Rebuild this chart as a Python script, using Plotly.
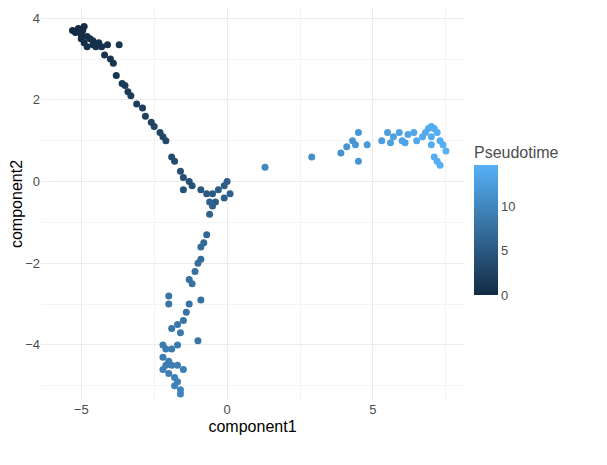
import plotly.graph_objects as go

x = [-5.3,-5.1,-4.9,-5.0,-4.8,-4.9,-4.7,-4.6,-4.5,-4.4,-4.3,-4.2,-4.0,-3.9,-4.1,-4.8,-5.0,-5.2,-4.95,-4.6,
     -3.8,-3.6,-3.5,-3.4,-3.3,-3.1,-2.9,-2.8,-2.6,-2.5,-2.3,-2.2,-2.1,-1.9,-1.8,-1.6,-1.5,-1.3,-1.5,-1.2,-0.9,-0.7,-0.5,-0.3,-0.1,0.0,-0.1,0.1,-0.4,-3.7,
     -0.6,-0.5,-0.6,-0.7,-0.8,-0.9,-0.9,-1.0,-1.1,-1.2,-1.3,-0.9,-1.3,-1.4,-1.5,-1.7,-1.6,-1.9,-2.0,-2.0,-1.0,-1.7,-1.9,-2.1,-2.2,-2.0,-1.9,-2.2,-2.0,-1.8,-1.7,-1.8,-1.6,-1.6,-2.1,-1.5,-1.7,-2.2,
     1.3,2.9,3.9,4.1,4.3,4.5,4.4,4.5,4.8,5.3,5.5,5.7,5.9,6.0,6.2,6.4,6.5,6.7,6.9,7.0,7.1,7.2,7.3,7.4,7.5,7.1,7.2,7.3,7.0,6.8,7.0,5.6,6.1]
y = [3.7,3.75,3.8,3.6,3.55,3.4,3.5,3.35,3.3,3.4,3.3,3.1,3.0,2.9,3.35,3.3,3.5,3.65,3.7,3.45,
     2.6,2.4,2.35,2.2,2.1,1.9,1.8,1.6,1.45,1.35,1.2,1.1,1.0,0.6,0.5,0.25,0.1,0.0,-0.2,-0.1,-0.2,-0.3,-0.3,-0.2,-0.1,0.0,-0.4,-0.3,-0.5,3.35,
     -0.5,-0.6,-0.8,-1.3,-1.5,-1.6,-1.9,-2.0,-2.2,-2.5,-2.4,-2.9,-3.0,-3.2,-3.4,-3.5,-3.7,-3.6,-3.0,-2.8,-3.9,-4.0,-4.1,-4.1,-4.3,-4.4,-4.5,-4.6,-4.7,-4.8,-4.9,-5.0,-5.1,-5.2,-4.5,-4.6,-4.5,-4.0,
     0.35,0.6,0.7,0.85,1.0,1.2,0.9,0.5,0.9,1.0,1.2,1.1,1.2,1.0,1.15,1.2,1.0,1.1,1.3,1.1,1.3,1.2,1.0,0.9,0.75,0.6,0.5,0.4,0.9,1.2,1.35,0.95,0.95]
pseudotime = [0,0.1,0.2,0.3,0.4,0.5,0.5,0.6,0.7,0.7,0.8,0.9,1.0,1.1,0.8,0.5,0.2,0.05,0.15,0.6,
     1.3,1.5,1.6,1.7,1.8,2.0,2.2,2.4,2.6,2.7,2.9,3.0,3.1,3.5,3.6,3.9,4.0,4.2,4.3,4.4,4.8,5.0,5.2,5.4,5.6,5.8,5.7,5.9,5.5,1.2,
     6.0,6.1,6.3,6.6,6.8,7.0,7.2,7.3,7.5,7.7,7.6,7.6,7.9,8.0,8.1,8.3,8.4,8.3,8.2,8.1,8.0,8.6,8.7,8.8,8.9,9.0,9.1,9.1,9.2,9.3,9.4,9.5,9.6,9.7,9.0,9.2,9.1,8.8,
     10,10.8,11.2,11.4,11.6,11.8,11.7,11.6,12.0,12.3,12.5,12.7,12.9,13.0,13.2,13.4,13.5,13.7,13.9,14.0,14.1,14.2,14.3,14.4,14.5,14.3,14.4,14.5,14.0,13.8,14.0,12.6,13.0]

fig = go.Figure(go.Scatter(
    x=x, y=y, mode="markers",
    marker=dict(size=7, color=pseudotime, cmin=0, cmax=14.6,
                colorscale=[[0, "#132B43"], [1, "#56B1F7"]],
                colorbar=dict(title=dict(text="Pseudotime", side="top", font=dict(size=16)),
                              tickvals=[0, 5, 10], thickness=24, len=172, lenmode="pixels",
                              x=1.0, xanchor="left", y=0.68, yanchor="top",
                              outlinewidth=0, ticks="", tickfont=dict(size=13, color="#4d4d4d"))),
    showlegend=False))

grid = "#ebebeb"
fig.update_layout(
    width=607, height=465, plot_bgcolor="white", paper_bgcolor="white",
    margin=dict(l=31, r=151, t=0, b=73),
    font=dict(family="Liberation Sans, Arial", size=13, color="#4d4d4d"),
    xaxis=dict(title=dict(text="component1", font=dict(size=16, color="black"), standoff=4),
               range=[-6.38, 8.12], tickvals=[-5, 0, 5], gridcolor=grid, gridwidth=1.3,
               zeroline=False, minor=dict(dtick=2.5, showgrid=True, gridcolor="#f4f4f4"), ticks=""),
    yaxis=dict(title=dict(text="component2", font=dict(size=16, color="black"), standoff=6),
               range=[-5.35, 4.25], tickvals=[-4, -2, 0, 2, 4], gridcolor=grid, gridwidth=1.3,
               zeroline=False, minor=dict(dtick=1, showgrid=True, gridcolor="#f4f4f4"), ticks=""),
)
fig.write_html("out.html")
